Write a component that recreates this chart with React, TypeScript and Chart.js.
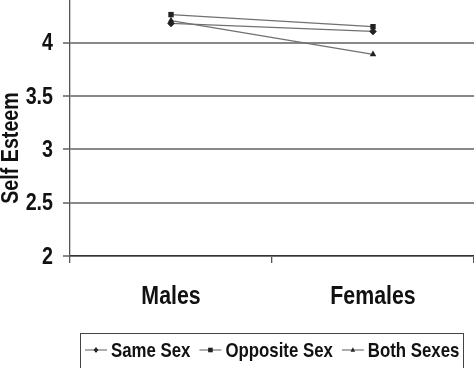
import React, { useEffect, useRef } from "react";
import { Chart, registerables } from "chart.js";

Chart.register(...registerables);

const categories = ["Males", "Females"];
const seriesNames = ["Same Sex", "Opposite Sex", "Both Sexes"];
const sameSex = [4.18, 4.105];
const oppositeSex = [4.263, 4.15];
const bothSexes = [4.207, 3.89];
const yTicks = [2, 2.5, 3, 3.5, 4];
const yTitle = "Self Esteem";

const FONT = '"Liberation Sans", Arial, sans-serif';
const SQUEEZE = 0.82;
const LEGEND_SIZE = 20.5;

function drawMarker(ctx: CanvasRenderingContext2D, style: string, x: number, y: number, r: number) {
  ctx.beginPath();
  if (style === "rect") {
    ctx.rect(x - r, y - r, 2 * r, 2 * r);
  } else if (style === "rectRot") {
    ctx.moveTo(x, y - r * 1.3);
    ctx.lineTo(x + r, y);
    ctx.lineTo(x, y + r * 1.3);
    ctx.lineTo(x - r, y);
    ctx.closePath();
  } else {
    ctx.moveTo(x, y - r * 1.2);
    ctx.lineTo(x + r, y + r * 0.8);
    ctx.lineTo(x - r, y + r * 0.8);
    ctx.closePath();
  }
  ctx.fill();
}

// horizontally condensed bold text (narrow face look)
function narrowText(
  ctx: CanvasRenderingContext2D,
  text: string,
  x: number,
  y: number,
  size: number,
  align: "left" | "center" | "right"
) {
  ctx.save();
  ctx.font = `bold ${size}px ${FONT}`;
  ctx.textBaseline = "middle";
  ctx.textAlign = align;
  ctx.translate(x, y);
  ctx.scale(SQUEEZE, 1);
  ctx.fillText(text, 0, 0);
  ctx.restore();
}

function narrowWidth(ctx: CanvasRenderingContext2D, text: string, size: number) {
  ctx.save();
  ctx.font = `bold ${size}px ${FONT}`;
  const w = ctx.measureText(text).width * SQUEEZE;
  ctx.restore();
  return w;
}

const customPlugin = {
  id: "customDecor",
  afterDraw(chart: any) {
    const ctx: CanvasRenderingContext2D = chart.ctx;
    const area = chart.chartArea;
    const xs = chart.scales.x;
    const ys = chart.scales.y;
    ctx.save();
    ctx.fillStyle = "#111";

    // y tick labels
    yTicks.forEach((v) => {
      narrowText(ctx, String(v), area.left - 17, ys.getPixelForValue(v) + 1, 24, "right");
    });
    // x tick labels
    categories.forEach((c, i) => {
      narrowText(ctx, c, xs.getPixelForValue(i), area.bottom + 41, 26, "center");
    });

    // y axis title
    ctx.save();
    ctx.font = `bold 24px ${FONT}`;
    ctx.textAlign = "center";
    ctx.textBaseline = "middle";
    ctx.translate(11, (area.top + area.bottom) / 2 + 20);
    ctx.rotate(-Math.PI / 2);
    ctx.scale(SQUEEZE, 1);
    ctx.fillText(yTitle, 0, 0);
    ctx.restore();

    // legend box
    const boxLeft = 80.5;
    const boxTop = 333.5;
    const boxRight = 463.5;
    const boxBottom = 372;
    ctx.strokeStyle = "#444";
    ctx.lineWidth = 1;
    ctx.strokeRect(boxLeft, boxTop, boxRight - boxLeft, boxBottom - boxTop);
    const cy = 350;
    let x = 85;
    chart.data.datasets.forEach((ds: any) => {
      ctx.strokeStyle = "#777";
      ctx.lineWidth = 1.2;
      ctx.beginPath();
      ctx.moveTo(x, cy);
      ctx.lineTo(x + 22, cy);
      ctx.stroke();
      ctx.fillStyle = "#222";
      drawMarker(ctx, ds.pointStyle, x + 11, cy, 2.3);
      ctx.fillStyle = "#111";
      narrowText(ctx, ds.label, x + 26, cy + 1, LEGEND_SIZE, "left");
      x = x + 26 + narrowWidth(ctx, ds.label, LEGEND_SIZE) + 9;
    });
    ctx.restore();
  },
};

export default function App() {
  const ref = useRef<HTMLCanvasElement | null>(null);
  useEffect(() => {
    document.body.style.margin = "0";
    const canvas = ref.current!;
    const mk = (label: string, data: number[], style: string) => ({
      label,
      data,
      borderColor: "#707070",
      borderWidth: 1.3,
      pointStyle: style,
      pointRadius: 3.8,
      pointBackgroundColor: "#222",
      pointBorderColor: "#222",
      pointBorderWidth: 0,
      fill: false,
      tension: 0,
      clip: false,
    });
    const chart = new Chart(canvas, {
      type: "line",
      data: {
        labels: categories,
        datasets: [
          mk(seriesNames[0], sameSex, "rectRot"),
          mk(seriesNames[1], oppositeSex, "rect"),
          mk(seriesNames[2], bothSexes, "triangle"),
        ],
      },
      plugins: [customPlugin],
      options: {
        responsive: false,
        animation: false,
        layout: { autoPadding: false, padding: { left: 0, right: 0, top: 0, bottom: 0 } },
        plugins: { legend: { display: false }, tooltip: { enabled: false } },
        scales: {
          x: {
            offset: true,
            grid: {
              offset: true,
              drawOnChartArea: false,
              drawTicks: true,
              tickLength: 7,
              color: "#555",
              lineWidth: 1.3,
            },
            border: { color: "#333", width: 1.3 },
            ticks: { display: false },
            afterFit: (s: any) => {
              s.height = 112;
            },
          },
          y: {
            min: 2,
            max: 4.4,
            afterBuildTicks: (s: any) => {
              s.ticks = yTicks.map((v) => ({ value: v }));
            },
            grid: {
              color: "#888",
              lineWidth: 2,
              tickLength: 7,
              tickColor: "#888",
            },
            border: { color: "#555", width: 1.3 },
            ticks: { display: false },
            afterFit: (s: any) => {
              s.width = 70;
            },
          },
        },
      },
    });
    return () => chart.destroy();
  }, []);
  return <canvas ref={ref} width={474} height={368} style={{ display: "block" }} />;
}
